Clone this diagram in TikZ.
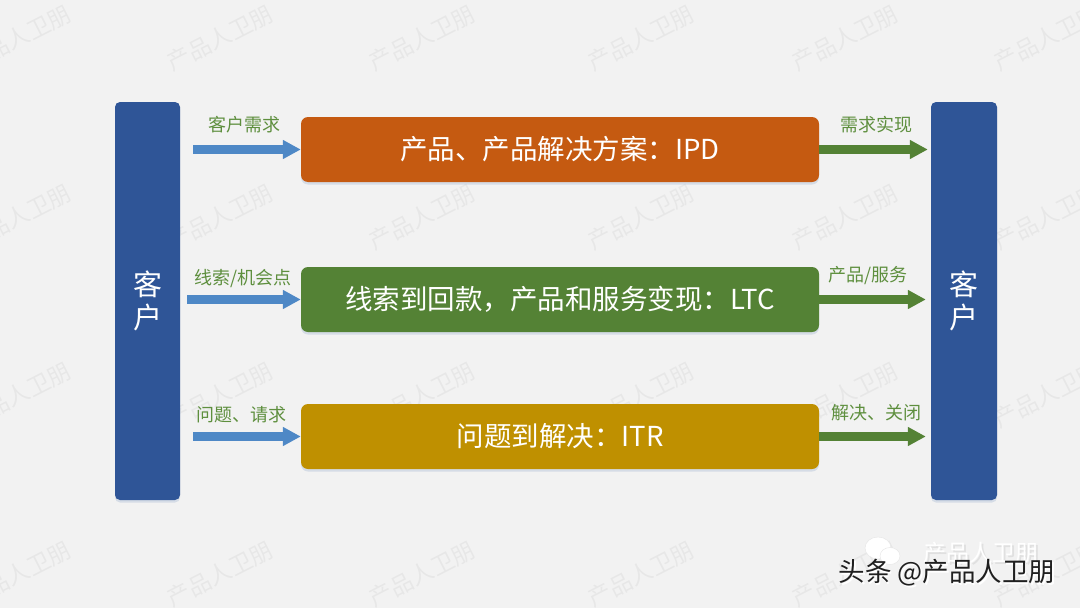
\documentclass[tikz,border=0pt]{standalone}
\usepackage{fontspec}
\setmainfont{Noto Sans CJK SC}
\usetikzlibrary{arrows.meta,shadows,calc}
\definecolor{bg}{HTML}{F2F2F2}
\definecolor{barblue}{HTML}{2F5597}
\definecolor{arrblue}{HTML}{4E88C6}
\definecolor{ipdorange}{HTML}{C55A11}
\definecolor{ltcgreen}{HTML}{548235}
\definecolor{itrgold}{HTML}{BF9000}
\definecolor{labgreen}{HTML}{5E8F3E}
\definecolor{glow}{HTML}{9FB4D0}
\tikzset{
  wm/.style={rotate=27, font=\fontsize{23}{23}\selectfont, text=black, opacity=0.045},
  softshadow/.style={drop shadow={shadow xshift=0pt, shadow yshift=-2.5pt, fill=glow, opacity=0.35}},
  custbar/.style={fill=barblue, rounded corners=5pt, minimum width=65pt, minimum height=398pt,
    text=white, align=center, font=\fontsize{29}{33}\selectfont, softshadow},
  procbox/.style={rounded corners=7pt, minimum width=518pt, minimum height=65pt,
    text=white, font=\fontsize{27.5}{30}\selectfont, softshadow},
  inarrow/.style={draw=arrblue, line width=9pt, -{Triangle[length=18pt,width=18pt]}},
  outarrow/.style={draw=ltcgreen, line width=9pt, -{Triangle[length=18pt,width=18pt]}},
  flowlab/.style={text=labgreen, font=\fontsize{18}{18}\selectfont, inner sep=0pt},
}
\begin{document}
\begin{tikzpicture}[x=1pt,y=-1pt]
\useasboundingbox (0,0) rectangle (1080,608);
\fill[bg] (0,0) rectangle (1080,608);
% watermarks
\foreach \x in {18,220,422,641,845,1047}{
  \foreach \y in {38,217,395,574}{
    \node[wm] at (\x,\y) {产品人卫朋};
  }
}
% customer bars
\node[custbar] (cl) at (147.5,301) {客\\户};
\node[custbar, minimum width=66pt] (cr) at (964,301) {客\\户};
% process boxes
\node[procbox, fill=ipdorange] (b1) at (560,149.5) {产品、产品解决方案：IPD};
\node[procbox, fill=ltcgreen] (b2) at (560,299.5) {线索到回款，产品和服务变现：LTC};
\node[procbox, fill=itrgold] (b3) at (560,436.5) {问题到解决：ITR};
% input arrows
\draw[inarrow] ([xshift=13pt]cl.east |- b1.west) -- (b1.west);
\draw[inarrow] ([xshift=7pt]cl.east |- b2.west) -- (b2.west);
\draw[inarrow] ([xshift=13pt]cl.east |- b3.west) -- (b3.west);
% output arrows
\draw[outarrow] (b1.east) -- ([xshift=-3pt]cr.west |- b1.east);
\draw[outarrow] (b2.east) -- ([xshift=-5pt]cr.west |- b2.east);
\draw[outarrow] (b3.east) -- ([xshift=-5pt]cr.west |- b3.east);
% labels
\node[flowlab] (l1) at (244,125) {客户需求};
\node[flowlab] (l2) at (243,279) {线索/机会点};
\node[flowlab] (l3) at (241,415) {问题、请求};
\node[flowlab] (r1) at (876,125) {需求实现};
\node[flowlab] (r2) at (868,276) {产品/服务};
\node[flowlab] (r3) at (876,413) {解决、关闭};
% bottom-right signature
\fill[white, draw=black!10] (878,548) ellipse [x radius=13pt, y radius=11pt];
\fill[white, draw=black!10] (890,556) ellipse [x radius=10pt, y radius=8.5pt];
\node[text=black!12, font=\fontsize{23}{23}\selectfont] at (982.5,554.5) {产品人卫朋};
\node[text=white, font=\fontsize{23}{23}\selectfont] (wmw) at (981,553) {产品人卫朋};
\node[text=white, font=\fontsize{26.5}{26.5}\selectfont] at (948.5,574.5) {头条 @产品人卫朋};
\node[text=black!88, font=\fontsize{26.5}{26.5}\selectfont] (sig) at (947,573) {头条 @产品人卫朋};
\end{tikzpicture}
\end{document}
